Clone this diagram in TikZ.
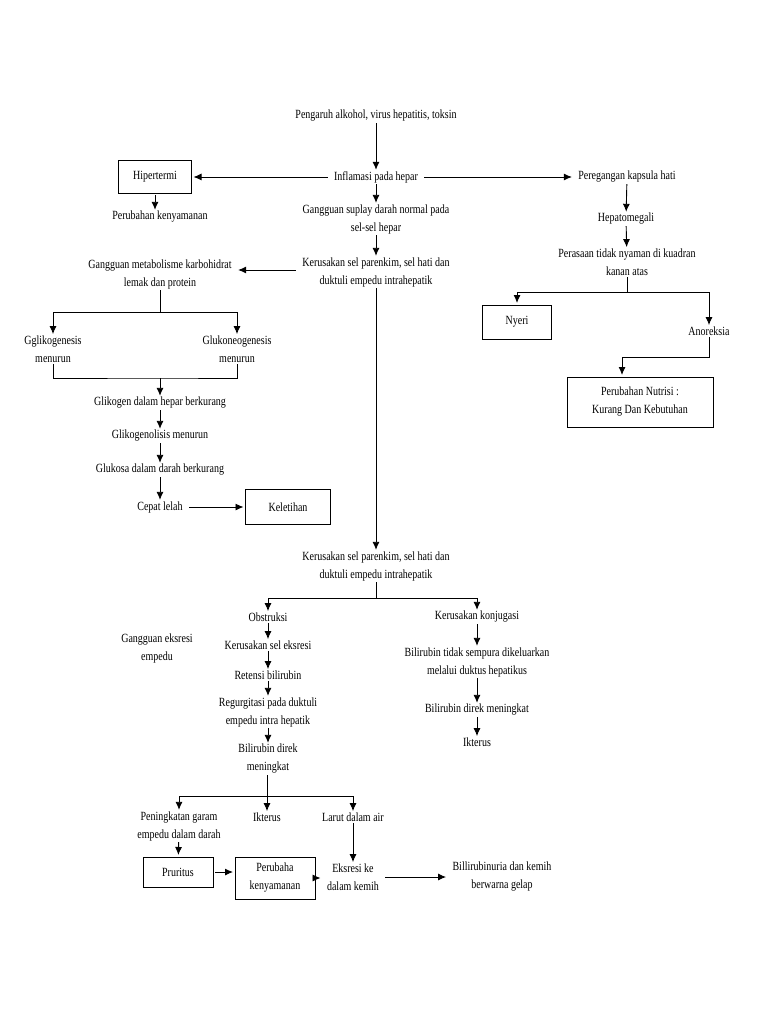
\documentclass[tikz,border=0pt]{standalone}
\usepackage{fontspec}
\setmainfont{Liberation Serif}[FakeStretch=0.8]
\usetikzlibrary{arrows.meta,positioning}

\begin{document}
\begin{tikzpicture}[x=1pt,y=-1pt]
\tikzstyle{main}=[align=center, inner xsep=5pt, inner ysep=0pt, outer sep=1.5pt, font=\fontsize{12.5}{18}\selectfont]
\tikzstyle{box}=[main, rectangle, draw=black, line width=0.9pt, inner xsep=2pt, outer sep=2pt]
\tikzstyle{connect}=[-{Latex[length=8pt,width=7pt]}, line width=0.9pt]
\tikzstyle{line}=[line width=0.9pt]

\useasboundingbox (0,0) rectangle (768,1024);

% top part
\node[main] at (376,116) (cause) {Pengaruh alkohol, virus hepatitis, toksin};
\node[main] at (376,177) (inflam) {Inflamasi pada hepar};
\node[box, minimum width=73, minimum height=33] at (155,177) (hiper) {Hipertermi};
\node[main] at (160,217) (nyaman) {Perubahan kenyamanan};
\node[main] at (376,219) (suplay) {Gangguan suplay darah normal pada\\sel-sel hepar};
\node[main] at (376,272) (kerusak1) {Kerusakan sel parenkim, sel hati dan\\duktuli empedu intrahepatik};

% left branch
\node[main] at (160,274) (metab) {Gangguan metabolisme karbohidrat\\lemak dan protein};
\node[main] at (53,349) (gliko) {Gglikogenesis\\menurun};
\node[main] at (237,349) (glukoneo) {Glukoneogenesis\\menurun};
\node[main] at (160,403) (glikogen) {Glikogen dalam hepar berkurang};
\node[main] at (160,436) (glikolisis) {Glikogenolisis menurun};
\node[main] at (160,470) (glukosa) {Glukosa dalam darah berkurang};
\node[main] at (160,507) (lelah) {Cepat lelah};
\node[box, minimum width=85, minimum height=35] at (288,507) (letih) {Keletihan};

% right branch
\node[main] at (627,177) (regang) {Peregangan kapsula hati};
\node[main] at (626,219) (hepato) {Hepatomegali};
\node[main] at (627,262) (perasaan) {Perasaan tidak nyaman di kuadran\\kanan atas};
\node[box, minimum width=69, minimum height=34] at (517,322) (nyeri) {Nyeri};
\node[main] at (709,331) (anor) {Anoreksia};
\node[box, minimum width=146, minimum height=50] at (640,402) (nutrisi) {Perubahan Nutrisi :\\Kurang Dan Kebutuhan};

% lower part
\node[main] at (376,566) (kerusak2) {Kerusakan sel parenkim, sel hati dan\\duktuli empedu intrahepatik};
\node[main] at (268,617) (obstruksi) {Obstruksi};
\node[main] at (477,617) (konjugasi) {Kerusakan konjugasi};
\node[main] at (157,648) (ekskresi) {Gangguan eksresi\\empedu};
\node[main] at (268,645) (selekskresi) {Kerusakan sel eksresi};
\node[main] at (268,675) (retensi) {Retensi bilirubin};
\node[main] at (268,712) (regurg) {Regurgitasi pada duktuli\\empedu intra hepatik};
\node[main] at (268,759) (direk1) {Bilirubin direk\\meningkat};
\node[main] at (477,662) (tidak) {Bilirubin tidak sempura dikeluarkan\\melalui duktus hepatikus};
\node[main] at (477,710) (direk2) {Bilirubin direk meningkat};
\node[main] at (477,742) (ikterus1) {Ikterus};
\node[main] at (179,826) (garam) {Peningkatan garam\\empedu dalam darah};
\node[main] at (267,817) (ikterus2) {Ikterus};
\node[main] at (353,817) (larut) {Larut dalam air};
\node[box, minimum width=70, minimum height=30] at (178,872) (pruritus) {Pruritus};
\node[box, minimum width=80, minimum height=42] at (275,878) (perubaha) {Perubaha\\kenyamanan};
\node[main] at (353,877) (kemih) {Eksresi ke\\dalam kemih};
\node[main] at (502,877) (urin) {Billirubinuria dan kemih\\berwarna gelap};

\coordinate (mjoin) at (160,312);
\coordinate (gjoin) at (160,378);
\coordinate (pjoin) at (627,292);
\coordinate (ajoin) at (622,357);
\coordinate (kjoin) at (376,598);
\coordinate (bjoin) at (267,796);

% connectors
\path (cause) edge [connect] (inflam);
\path (inflam) edge [connect] (hiper);
\path (inflam) edge [connect] (regang);
\path (hiper) edge [connect] (hiper.south |- nyaman.north);
\path (inflam) edge [connect] (suplay);
\path (suplay) edge [connect] (kerusak1);
\path (kerusak1.west |- 0,270) edge [connect] (metab.east |- 0,270);
\path (kerusak1) edge [connect] (kerusak2);

\draw[line] (metab) -- (mjoin);
\draw[connect] (mjoin) -| (gliko);
\draw[connect] (mjoin) -| (glukoneo);
\draw[line] (gliko.south) |- (gjoin) -| (glukoneo.south);
\path (gjoin) edge [connect] (glikogen);
\path (glikogen) edge [connect] (glikolisis);
\path (glikolisis) edge [connect] (glukosa);
\path (glukosa) edge [connect] (lelah);
\path (lelah) edge [connect] (letih);

\path (regang) edge [connect] (hepato);
\path (hepato) edge [connect] (perasaan);
\draw[line] (perasaan) -- (pjoin);
\draw[connect] (pjoin) -| (nyeri);
\draw[connect] (pjoin) -| (anor.north);
\draw[connect] (anor.south) |- (ajoin) -- (ajoin |- nutrisi.north);

\draw[line] (kerusak2) -- (kjoin);
\draw[connect] (kjoin) -| (obstruksi);
\draw[connect] (kjoin) -| (konjugasi);
\path (obstruksi) edge [connect] (selekskresi);
\path (selekskresi) edge [connect] (retensi);
\path (retensi) edge [connect] (regurg);
\path (regurg) edge [connect] (direk1);
\path (konjugasi) edge [connect] (tidak);
\path (tidak) edge [connect] (direk2);
\path (direk2) edge [connect] (ikterus1);

\draw[line] (direk1.south -| bjoin) -- (bjoin);
\draw[connect] (bjoin) -| (garam);
\draw[connect] (bjoin) -- (ikterus2);
\draw[connect] (bjoin) -| (larut);
\path (garam) edge [connect] (pruritus);
\path (pruritus.east) edge [connect] (pruritus.east -| perubaha.west);
\path (perubaha.east) edge [connect] (perubaha.east -| kemih.west);
\path (larut) edge [connect] (kemih);
\path (kemih.east) edge [connect] (kemih.east -| urin.west);
\end{tikzpicture}
\end{document}
